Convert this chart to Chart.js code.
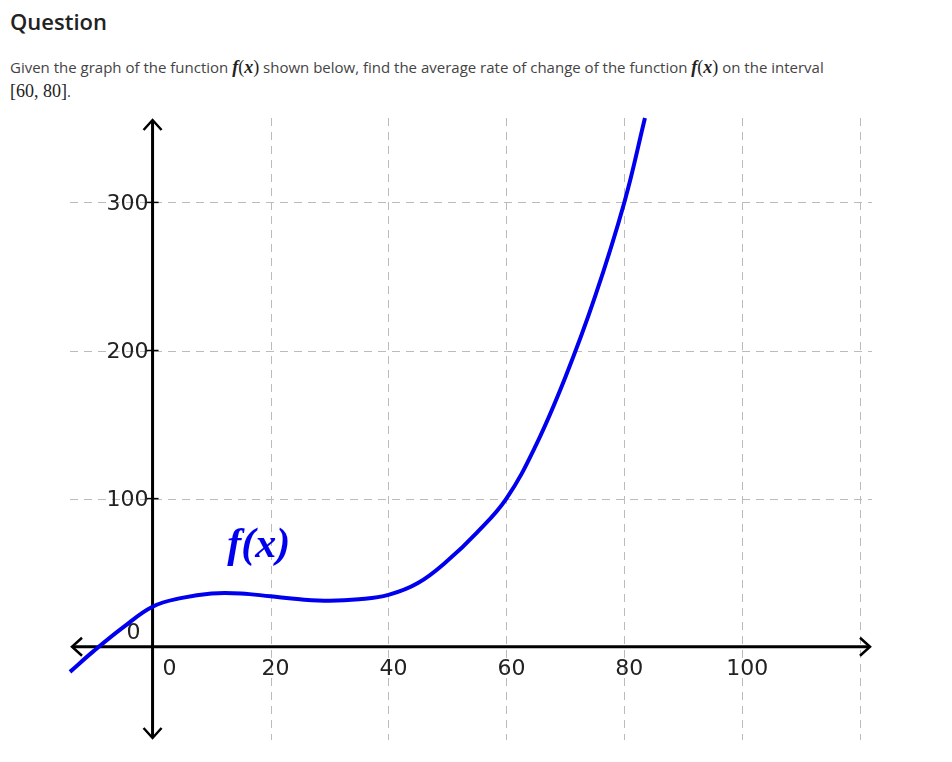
<!DOCTYPE html>
<html><head><meta charset="utf-8">
<script src="https://cdn.jsdelivr.net/npm/chart.js@4"></script>
<style>
body{margin:0;background:#fff;font-family:"Open Sans",sans-serif;}
#h{position:absolute;left:10px;top:6px;font-size:22px;color:#222;font-weight:600;}
#q{position:absolute;left:10px;top:55px;font-size:15px;color:#444;width:930px;line-height:24px;}
.m{font-family:"Liberation Serif",serif;font-style:italic;font-weight:bold;font-size:18px;color:#222}
.n{font-family:"Liberation Serif",serif;font-size:18px;color:#222}
#c{position:absolute;left:0;top:0;}
</style></head><body>
<div id="h">Question</div>
<div id="q">Given the graph of the function <span class="m">f</span><span class="n">(</span><span class="m">x</span><span class="n">)</span> shown below, find the average rate of change of the function <span class="m">f</span><span class="n">(</span><span class="m">x</span><span class="n">)</span> on the interval<br><span class="n">[60, 80]</span>.</div>
<canvas id="c" width="952" height="762"></canvas>
<script>
const xs=[-14,-10,-5,0,5,10,15,20,25,30,35,40,45,50,55,60,65,70,75,80,83.5];
const ys=[-17,-3,13,27,33,36,36,34,32,31,32,35,43,58,77,100,136,182,236,300,357];
const xTicks=[0,20,40,60,80,100];
const yTicks=[100,200,300];
const xGrid=[20,40,60,80,100,120];
const pts=xs.map((x,i)=>({x,y:ys[i]}));
const deco={id:'deco',
beforeDatasetsDraw(ch){const c=ch.ctx,a=ch.chartArea,X=ch.scales.x,Y=ch.scales.y;
c.save();c.strokeStyle='#bbb';c.lineWidth=1;c.setLineDash([8,6]);
xGrid.forEach(v=>{const p=Math.round(X.getPixelForValue(v))+.5;c.beginPath();c.moveTo(p,a.top);c.lineTo(p,a.bottom);c.stroke();});
yTicks.forEach(v=>{const p=Math.round(Y.getPixelForValue(v))+.5;c.beginPath();c.moveTo(a.left,p);c.lineTo(a.right,p);c.stroke();});
c.setLineDash([]);c.strokeStyle='#000';c.lineWidth=3;
const x0=X.getPixelForValue(0),y0=Y.getPixelForValue(0);
c.beginPath();c.moveTo(a.left+3,y0);c.lineTo(a.right-3,y0);c.moveTo(x0,a.top+3);c.lineTo(x0,a.bottom-3);c.stroke();
c.lineWidth=2.5;c.beginPath();
c.moveTo(a.right-12,y0-9);c.lineTo(a.right-2,y0);c.lineTo(a.right-12,y0+9);
c.moveTo(a.left+12,y0-9);c.lineTo(a.left+2,y0);c.lineTo(a.left+12,y0+9);
c.moveTo(x0-9,a.top+12);c.lineTo(x0,a.top+2);c.lineTo(x0+9,a.top+12);
c.moveTo(x0-9,a.bottom-12);c.lineTo(x0,a.bottom-2);c.lineTo(x0+9,a.bottom-12);c.stroke();
c.lineWidth=1.5;
yTicks.forEach(v=>{const p=Y.getPixelForValue(v);c.beginPath();c.moveTo(x0-6,p);c.lineTo(x0+6,p);c.stroke();});
c.fillStyle='#222';c.font='22px "DejaVu Sans"';c.textBaseline='middle';c.textAlign='right';
yTicks.forEach(v=>c.fillText(String(v),x0-4,Y.getPixelForValue(v)+2));
c.fillText('0',x0-12,y0-13);
c.textAlign='center';c.textBaseline='top';
xTicks.forEach(v=>c.fillText(String(v),X.getPixelForValue(v)+(v===0?17:5),y0+12));
c.restore();},
afterDatasetsDraw(ch){const c=ch.ctx,X=ch.scales.x,Y=ch.scales.y;c.save();c.fillStyle='#0000ee';c.font='italic bold 42px "Liberation Serif"';c.textAlign='center';c.textBaseline='middle';c.fillText('f(x)',X.getPixelForValue(18),Y.getPixelForValue(68));c.restore();}};
new Chart(document.getElementById('c'),{type:'scatter',
data:{datasets:[{data:pts,showLine:true,borderColor:'#0000ee',borderWidth:4,pointRadius:0,tension:0.4}]},
options:{responsive:false,animation:false,clip:false,layout:{padding:{left:70,right:80,top:118,bottom:22}},
plugins:{legend:{display:false},tooltip:{enabled:false}},
scales:{x:{type:'linear',min:-14,max:122,display:false},y:{min:-63,max:357,display:false}}},
plugins:[deco]});
</script></body></html>
